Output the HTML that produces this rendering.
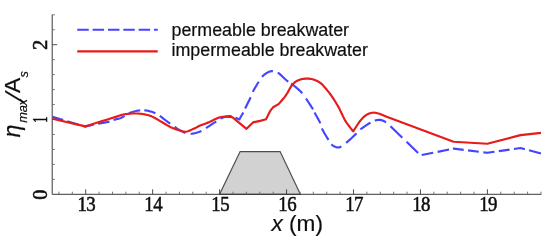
<!DOCTYPE html>
<html><head><meta charset="utf-8">
<style>
html,body{margin:0;padding:0;background:#fff;}
svg{display:block;}
.ser{font-family:"Liberation Serif",serif;font-size:20.5px;fill:#111;stroke:#111;stroke-width:0.55px;}
.xl{letter-spacing:-0.6px;}
.san{font-family:"Liberation Sans",sans-serif;fill:#111;stroke:#111;stroke-width:0.2px;}
</style></head><body>
<svg width="550" height="243" viewBox="0 0 550 243">
<defs><filter id="soft" x="0" y="0" width="550" height="243" filterUnits="userSpaceOnUse"><feGaussianBlur stdDeviation="0.45"/></filter></defs>
<rect width="550" height="243" fill="#fff"/>
<g filter="url(#soft)">
<polygon points="219.6,194.3 240.1,151.6 280.1,151.6 300.4,194.3" fill="#d2d2d2" stroke="#505050" stroke-width="1.25"/>
<g stroke="#3a3a3a" stroke-width="1" fill="none">
<path d="M52.2,14.5 V194.3 H541.3"/>
</g>
<g stroke="#3a3a3a" stroke-width="0.9" fill="none">
<path d="M58.92,194.30 v-2.6" stroke="#666"/>
<path d="M72.31,194.30 v-2.6" stroke="#666"/>
<path d="M85.70,194.30 v-5"/>
<path d="M99.09,194.30 v-2.6" stroke="#666"/>
<path d="M112.48,194.30 v-2.6" stroke="#666"/>
<path d="M125.87,194.30 v-2.6" stroke="#666"/>
<path d="M139.26,194.30 v-2.6" stroke="#666"/>
<path d="M152.65,194.30 v-5"/>
<path d="M166.04,194.30 v-2.6" stroke="#666"/>
<path d="M179.43,194.30 v-2.6" stroke="#666"/>
<path d="M192.82,194.30 v-2.6" stroke="#666"/>
<path d="M206.21,194.30 v-2.6" stroke="#666"/>
<path d="M219.60,194.30 v-5"/>
<path d="M232.99,194.30 v-2.6" stroke="#666"/>
<path d="M246.38,194.30 v-2.6" stroke="#666"/>
<path d="M259.77,194.30 v-2.6" stroke="#666"/>
<path d="M273.16,194.30 v-2.6" stroke="#666"/>
<path d="M286.55,194.30 v-5"/>
<path d="M299.94,194.30 v-2.6" stroke="#666"/>
<path d="M313.33,194.30 v-2.6" stroke="#666"/>
<path d="M326.72,194.30 v-2.6" stroke="#666"/>
<path d="M340.11,194.30 v-2.6" stroke="#666"/>
<path d="M353.50,194.30 v-5"/>
<path d="M366.89,194.30 v-2.6" stroke="#666"/>
<path d="M380.28,194.30 v-2.6" stroke="#666"/>
<path d="M393.67,194.30 v-2.6" stroke="#666"/>
<path d="M407.06,194.30 v-2.6" stroke="#666"/>
<path d="M420.45,194.30 v-5"/>
<path d="M433.84,194.30 v-2.6" stroke="#666"/>
<path d="M447.23,194.30 v-2.6" stroke="#666"/>
<path d="M460.62,194.30 v-2.6" stroke="#666"/>
<path d="M474.01,194.30 v-2.6" stroke="#666"/>
<path d="M487.40,194.30 v-5"/>
<path d="M500.79,194.30 v-2.6" stroke="#666"/>
<path d="M514.18,194.30 v-2.6" stroke="#666"/>
<path d="M527.57,194.30 v-2.6" stroke="#666"/>
<path d="M540.96,194.30 v-2.6" stroke="#666"/>
<path d="M52.20,179.34 h2.6" stroke="#666"/>
<path d="M52.20,164.38 h2.6" stroke="#666"/>
<path d="M52.20,149.42 h2.6" stroke="#666"/>
<path d="M52.20,134.46 h2.6" stroke="#666"/>
<path d="M52.20,119.50 h5"/>
<path d="M52.20,104.54 h2.6" stroke="#666"/>
<path d="M52.20,89.58 h2.6" stroke="#666"/>
<path d="M52.20,74.62 h2.6" stroke="#666"/>
<path d="M52.20,59.66 h2.6" stroke="#666"/>
<path d="M52.20,44.70 h5"/>
<path d="M52.20,29.74 h2.6" stroke="#666"/>
<path d="M52.20,14.80 h2.6" stroke="#666"/>
</g>
<path fill="none" stroke="#4444ff" stroke-width="2.15" stroke-linejoin="round" d="M52.50,116.90 L63.20,120.06 M67.30,121.28 L78.80,124.68 M82.70,125.83 L85.30,126.60 L86.58,126.29 L87.83,125.98 L89.08,125.67 L90.36,125.35 L91.72,125.03 L93.20,124.70 L94.00,124.54 M98.10,123.75 L98.34,123.71 L101.24,123.19 L104.10,122.66 L106.75,122.13 L109.00,121.60 L109.50,121.46 M113.60,120.07 L114.04,119.91 L115.00,119.60 L115.99,119.32 L117.00,119.07 L118.00,118.83 L118.99,118.59 L119.93,118.31 L120.80,118.00 L121.45,117.71 L122.04,117.40 L122.60,117.07 L123.16,116.73 L123.75,116.37 L124.40,116.00 L124.60,115.89 M129.00,113.45 L129.74,113.08 L130.80,112.60 L131.68,112.25 L132.53,111.94 L133.38,111.67 L134.23,111.43 L135.10,111.20 L136.00,111.00 L137.03,110.79 L138.09,110.61 L139.18,110.45 L140.20,110.33 M144.30,110.26 L145.19,110.33 L146.10,110.45 L147.04,110.61 L148.00,110.80 L149.19,111.08 L150.45,111.43 L151.74,111.83 L153.00,112.27 L154.20,112.73 L155.30,113.20 L155.40,113.25 M159.80,115.94 L160.93,116.74 L162.43,117.85 L164.00,119.05 L165.57,120.25 L167.03,121.36 L168.30,122.30 L168.97,122.78 L169.56,123.19 L170.11,123.57 L170.20,123.63 M174.60,126.75 L175.78,127.60 L177.19,128.61 L178.56,129.53 L179.80,130.30 L180.59,130.75 L181.33,131.15 L182.05,131.50 L182.76,131.82 L183.50,132.12 L184.30,132.40 L185.29,132.73 L185.60,132.83 M190.60,133.79 L190.80,133.80 L192.30,133.68 L193.91,133.40 L195.56,132.99 L197.21,132.50 L198.77,131.95 L200.20,131.40 L201.24,130.93 L201.40,130.85 M206.00,128.04 L207.46,127.13 L209.16,126.03 L210.95,124.87 L212.73,123.71 L214.44,122.60 L216.00,121.60 L216.20,121.47 M220.50,118.63 L220.76,118.48 L221.80,118.00 L223.14,117.50 L224.62,117.04 L226.15,116.64 L227.68,116.34 L229.11,116.15 L230.40,116.10 L231.20,116.17 L231.50,116.23 M235.50,117.63 L236.23,117.96 L237.00,118.34 L237.77,118.73 L238.53,119.12 L239.30,119.50 L240.00,118.28 L240.73,117.04 L241.45,115.79 L242.16,114.57 L242.81,113.40 L243.30,112.49 M245.20,108.43 L245.40,108.00 L246.17,106.41 L247.10,104.57 L248.10,102.58 L249.09,100.58 L250.02,98.67 L250.70,97.21 M252.90,91.82 L253.00,91.60 L253.81,90.05 L254.77,88.32 L255.82,86.52 L256.89,84.73 L257.91,83.06 L258.70,81.76 M262.00,76.78 L262.41,76.36 L263.33,75.50 L264.33,74.67 L265.37,73.88 L266.40,73.18 L267.40,72.60 L268.20,72.20 L268.99,71.84 L269.78,71.55 L270.58,71.32 L271.38,71.17 L272.20,71.10 L272.90,71.12 M277.70,72.63 L278.92,73.42 L280.39,74.64 L281.91,76.05 L283.44,77.54 L284.98,78.99 L286.50,80.30 L287.93,81.39 L288.30,81.65 M291.00,83.55 L292.24,84.42 L293.64,85.43 L295.00,86.50 L296.31,87.60 L297.62,88.73 L298.91,89.89 L300.14,91.05 L301.28,92.19 L302.30,93.30 M306.00,98.50 L306.91,99.85 L308.19,101.77 L309.53,103.82 L310.84,105.87 L312.03,107.77 L313.00,109.40 M314.60,112.50 L314.79,112.89 L315.20,113.70 L316.04,115.27 L317.06,117.09 L318.15,119.05 L319.22,121.03 L320.17,122.88 L320.40,123.40 M322.00,128.41 L322.30,129.20 L323.10,130.85 L324.14,132.75 L325.32,134.76 L326.55,136.76 L327.71,138.62 L328.50,139.88 M331.40,144.29 L331.60,144.50 L332.24,145.06 L332.95,145.58 L333.70,146.06 L334.45,146.48 L335.20,146.83 L335.90,147.10 L336.41,147.25 L336.91,147.35 L337.40,147.42 L337.88,147.45 L338.35,147.44 L338.80,147.40 L339.18,147.34 L339.54,147.25 L339.88,147.13 L340.23,146.98 L340.60,146.81 L341.00,146.60 L341.40,146.37 M346.20,142.83 L347.55,141.68 L349.29,140.12 L351.13,138.43 L352.94,136.72 L354.63,135.11 L356.10,133.70 L356.50,133.30 M360.40,129.40 L361.85,128.27 L363.55,127.04 L365.37,125.78 L367.22,124.58 L368.96,123.49 L370.50,122.60 M374.80,120.62 L375.20,120.50 L376.01,120.29 L376.83,120.10 L377.67,119.95 L378.51,119.86 L379.35,119.84 L380.20,119.90 L381.17,120.08 L382.16,120.37 L383.16,120.74 L384.15,121.19 L385.10,121.68 L386.00,122.20 M390.50,126.20 L402.30,137.65 M406.60,141.82 L418.10,152.97 M421.70,155.06 L433.20,152.75 M437.60,151.87 L449.10,149.56 M452.90,148.80 L453.90,148.60 L463.70,149.83 M468.00,150.37 L478.80,151.73 M483.40,152.31 L487.30,152.80 L494.50,151.76 M498.80,151.14 L509.60,149.58 M513.90,148.95 L520.50,148.00 L524.90,149.18 M529.00,150.28 L541.00,153.50"/>
<polyline fill="none" stroke="#e61a1c" stroke-width="2.15" stroke-linejoin="round" points="52.50,118.70 85.30,126.40 90.48,124.78 95.95,123.07 101.41,121.36 106.60,119.74 111.22,118.29 115.00,117.10 116.48,116.62 117.76,116.18 118.90,115.78 119.97,115.42 121.05,115.10 122.20,114.80 123.39,114.54 124.59,114.31 125.79,114.12 126.99,113.96 128.20,113.82 129.40,113.70 130.60,113.60 131.80,113.53 133.00,113.49 134.20,113.47 135.40,113.47 136.60,113.50 137.80,113.55 139.00,113.62 140.21,113.72 141.41,113.85 142.61,114.01 143.80,114.20 145.01,114.43 146.22,114.68 147.43,114.97 148.63,115.30 149.82,115.67 151.00,116.10 152.22,116.62 153.43,117.21 154.63,117.86 155.82,118.53 157.01,119.22 158.20,119.90 159.41,120.59 160.60,121.31 161.80,122.04 163.00,122.78 164.20,123.50 165.40,124.20 166.59,124.89 167.78,125.58 168.98,126.27 170.17,126.93 171.38,127.54 172.60,128.10 173.79,128.58 175.01,129.00 176.23,129.39 177.45,129.75 178.64,130.08 179.80,130.40 180.78,130.69 181.72,131.00 182.64,131.30 183.57,131.53 184.52,131.68 185.50,131.70 186.70,131.53 187.94,131.20 189.21,130.74 190.49,130.20 191.76,129.64 193.00,129.10 194.21,128.55 195.40,127.95 196.57,127.33 197.75,126.69 198.96,126.08 200.20,125.50 201.57,124.94 202.98,124.42 204.41,123.92 205.86,123.42 207.32,122.88 208.80,122.30 210.46,121.54 212.17,120.68 213.89,119.79 215.61,118.93 217.29,118.18 218.90,117.60 220.15,117.27 221.38,117.02 222.58,116.83 223.76,116.71 224.93,116.63 226.10,116.60 227.20,116.62 228.29,116.71 229.37,116.85 230.45,117.01 231.52,117.16 232.60,117.30 246.50,128.80 253.00,122.40 260.20,120.90 266.00,119.20 270.30,110.80 273.20,107.20 278.90,103.90 280.11,102.43 281.33,100.98 282.56,99.53 283.77,98.06 284.95,96.56 286.10,95.00 287.23,93.24 288.29,91.35 289.33,89.42 290.38,87.56 291.45,85.85 292.60,84.40 293.50,83.48 294.42,82.66 295.35,81.93 296.31,81.28 297.33,80.71 298.40,80.20 299.64,79.73 300.97,79.34 302.36,79.04 303.76,78.82 305.15,78.67 306.50,78.60 307.73,78.60 308.95,78.67 310.17,78.81 311.37,79.01 312.54,79.28 313.70,79.60 314.84,79.98 315.96,80.42 317.06,80.92 318.14,81.48 319.19,82.11 320.20,82.80 321.25,83.64 322.25,84.59 323.22,85.60 324.17,86.67 325.09,87.74 326.00,88.80 326.87,89.81 327.70,90.82 328.51,91.84 329.32,92.89 330.14,94.01 331.00,95.20 332.16,96.86 333.36,98.65 334.58,100.52 335.81,102.48 337.02,104.48 338.20,106.50 339.46,108.87 340.72,111.43 341.95,114.05 343.16,116.59 344.31,118.92 345.40,120.90 346.03,121.92 346.64,122.82 347.22,123.63 347.80,124.41 348.38,125.18 349.00,126.00 349.67,126.90 350.37,127.80 351.07,128.70 351.78,129.60 352.49,130.50 353.20,131.40 354.46,129.46 355.71,127.46 356.97,125.46 358.23,123.53 359.50,121.72 360.80,120.10 361.84,118.94 362.89,117.84 363.95,116.82 365.01,115.90 366.10,115.09 367.20,114.40 368.14,113.92 369.09,113.52 370.05,113.21 371.02,112.96 372.00,112.79 373.00,112.70 374.06,112.69 375.13,112.79 376.21,112.97 377.31,113.21 378.40,113.49 379.50,113.80 380.69,114.19 381.89,114.66 383.09,115.18 384.29,115.73 385.50,116.28 386.70,116.80 453.60,141.80 487.30,143.70 520.50,135.10 541.00,132.90"/>
<line x1="77.25" y1="29.75" x2="157.75" y2="29.75" stroke="#4444ff" stroke-width="2.15" stroke-dasharray="11.5 3.85"/>
<line x1="77.25" y1="51.3" x2="157.75" y2="51.3" stroke="#e61a1c" stroke-width="2.15"/>
<text class="san" x="171.5" y="35.6" font-size="17.85">permeable breakwater</text>
<text class="san" x="171.5" y="56.0" font-size="17.85">impermeable breakwater</text>
<g class="ser xl" text-anchor="middle">
<text transform="translate(86.3,211.0) scale(0.92,1)">13</text>
<text transform="translate(153.2,211.0) scale(0.92,1)">14</text>
<text transform="translate(220.2,211.0) scale(0.92,1)">15</text>
<text transform="translate(287.2,211.0) scale(0.92,1)">16</text>
<text transform="translate(354.1,211.0) scale(0.92,1)">17</text>
<text transform="translate(421.1,211.0) scale(0.92,1)">18</text>
<text transform="translate(488.0,211.0) scale(0.92,1)">19</text>
</g>
<g class="ser" text-anchor="middle">
<text transform="translate(47.2,194.5) rotate(-90)">0</text>
<text transform="translate(47.2,119.7) rotate(-90) scale(0.6,1)">1</text>
<text transform="translate(47.2,44.9) rotate(-90)">2</text>
</g>
<text class="san" x="271.5" y="230.5" font-size="22.6"><tspan font-style="italic">x</tspan> (m)</text>
<g transform="translate(20.0,137.5) rotate(-90)" class="san" font-size="22.8">
<text x="0" y="0" font-style="italic" font-size="23.5">η</text>
<text x="14.7" y="6.9" font-style="italic" font-size="12.9" letter-spacing="-0.3">max</text>
<text transform="translate(35.3,3.5) skewX(-8)" font-style="italic" font-size="26">/</text>
<text x="44.6" y="-0.5">A</text>
<text x="59.9" y="7.8" font-style="italic" font-size="13">s</text>
</g>
</g>
</svg>
</body></html>
